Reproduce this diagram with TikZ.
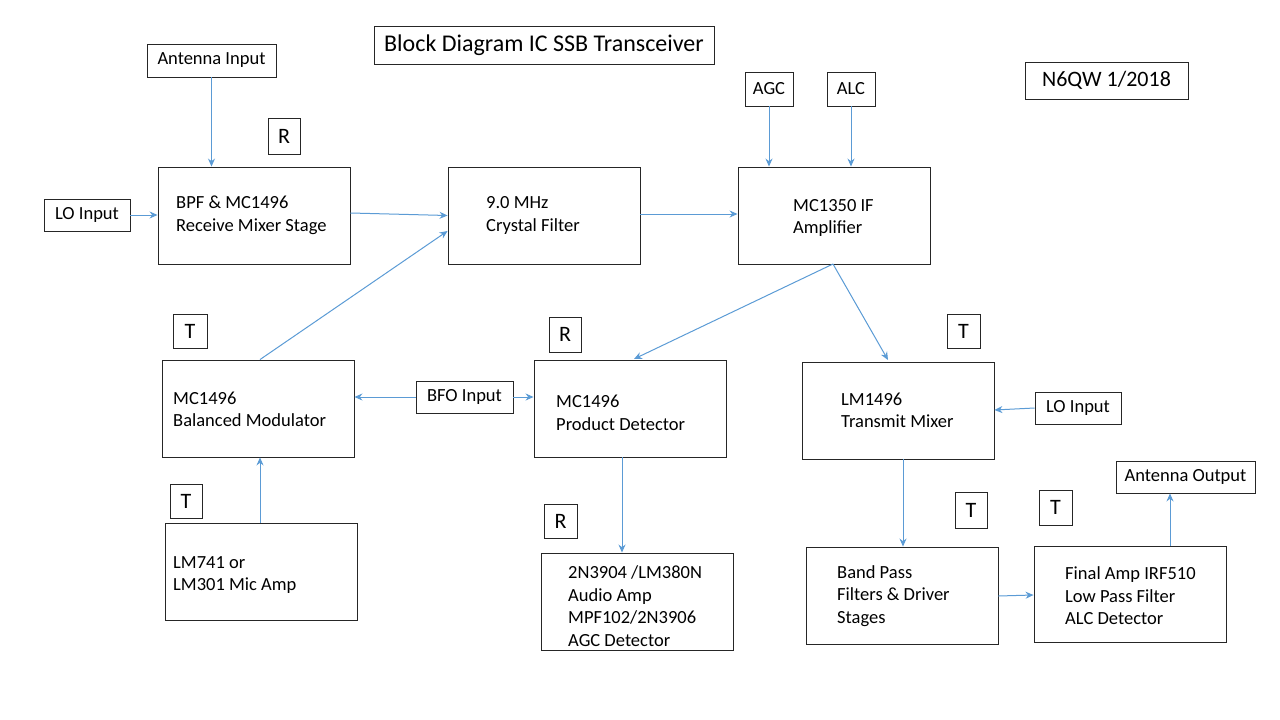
\documentclass[tikz,border=0pt]{standalone}
\usepackage{fontspec}
\setmainfont{Carlito}
\usetikzlibrary{arrows.meta}
\definecolor{ab}{HTML}{5B9BD5}
\begin{document}
\begin{tikzpicture}[x=1pt,y=-1pt,
 box/.style={draw=black!85,line width=0.9pt,rectangle,inner sep=0pt},
 txt/.style={anchor=west,align=left,font=\fontsize{18.5}{22.5}\selectfont,inner sep=0pt},
 lbl/.style={box,font=\fontsize{18.5}{21}\selectfont},
 big/.style={font=\fontsize{22}{26}\selectfont},
 ar/.style={draw=ab,line width=1pt,-{Stealth[length=8pt,width=7pt]}}]
\useasboundingbox (0,0) rectangle (1280,720);
\node[lbl,minimum width=340,minimum height=38,font=\fontsize{24}{28}\selectfont] (title) at (544,45) {Block Diagram IC SSB Transceiver};
\node[lbl,minimum width=129,minimum height=33] (ant) at (211.5,60.5) {Antenna Input};
\node[lbl,big,minimum width=32,minimum height=36] (r1) at (284,136) {R};
\node[lbl,minimum width=86,minimum height=32] (lo1) at (87,215) {LO Input};
\node[lbl,big,minimum width=163,minimum height=37] (call) at (1106.5,80.5) {N6QW 1/2018};
\node[lbl,minimum width=48,minimum height=34] (agc) at (769,89) {AGC};
\node[lbl,minimum width=48,minimum height=34] (alc) at (851,89) {ALC};
\node[box,minimum width=192,minimum height=97] (bpf) at (254,215.5) {};
\node[txt] at (176,215.5) {BPF \& MC1496\\Receive Mixer Stage};
\node[box,minimum width=192,minimum height=97] (xf) at (544,215.5) {};
\node[txt] at (486,215.5) {9.0 MHz\\Crystal Filter};
\node[box,minimum width=192,minimum height=97] (if) at (834,215.5) {};
\node[txt] at (793,218) {MC1350 IF\\Amplifier};
\node[lbl,big,minimum width=34,minimum height=34] (t1) at (190,331) {T};
\node[box,minimum width=192,minimum height=97] (bm) at (258,408.5) {};
\node[txt] at (173,409.5) {MC1496\\Balanced Modulator};
\node[lbl,minimum width=97,minimum height=32] (bfo) at (464.5,397) {BFO Input};
\node[lbl,big,minimum width=32,minimum height=35] (r2) at (565,334.5) {R};
\node[box,minimum width=192,minimum height=97] (pd) at (630,408.5) {};
\node[txt] at (556,413) {MC1496\\Product Detector};
\node[lbl,big,minimum width=33,minimum height=34] (t2) at (963.5,331) {T};
\node[box,minimum width=192,minimum height=97] (tm) at (898,410.5) {};
\node[txt] at (841,410.5) {LM1496\\Transmit Mixer};
\node[lbl,minimum width=86,minimum height=32] (lo2) at (1078,408) {LO Input};
\node[lbl,big,minimum width=32,minimum height=34] (t3) at (186,501) {T};
\node[box,minimum width=192,minimum height=97] (mic) at (261,571.5) {};
\node[txt] at (173,575) {LM741 or\\LM301 Mic Amp};
\node[lbl,big,minimum width=33,minimum height=34] (r3) at (560.5,521) {R};
\node[box,minimum width=192,minimum height=97] (aud) at (637,601.5) {};
\node[txt] at (568,606) {2N3904 /LM380N\\Audio Amp\\MPF102/2N3906\\AGC Detector};
\node[lbl,big,minimum width=32,minimum height=36] (t4) at (971,510) {T};
\node[lbl,big,minimum width=33,minimum height=35] (t5) at (1055.5,507.5) {T};
\node[lbl,minimum width=139,minimum height=32] (antout) at (1185.5,477) {Antenna Output};
\node[box,minimum width=192,minimum height=97] (bp) at (902,595.5) {};
\node[txt] at (837,596) {Band Pass\\Filters \& Driver\\Stages};
\node[box,minimum width=192,minimum height=96] (fa) at (1130,594) {};
\node[txt] at (1065,596) {Final Amp IRF510\\Low Pass Filter\\ALC Detector};
% arrows
\draw[ar] (ant.south) -- (ant.south |- bpf.north);
\draw[ar] (lo1.east) -- (lo1.east -| bpf.west);
\draw[ar] (bpf.east |- 0,213) -- (xf.west);
\draw[ar] (xf.east |- 0,214) -- (if.west |- 0,214);
\draw[ar] (agc.south) -- (agc.south |- if.north);
\draw[ar] (alc.south) -- (alc.south |- if.north);
\draw[ar] (bm.north -| 260,0) -- (xf.west |- 0,231);
\coordinate (ifb) at (833,264);
\draw[ar] (ifb) -- (634,359);
\draw[ar] (ifb) -- (888,360);
\draw[ar] (bfo.west) -- (bfo.west -| bm.east);
\draw[ar] (bfo.east) -- (bfo.east -| pd.west);
\draw[ar] (mic.north -| 260,0) -- (bm.south -| 260,0);
\draw[ar] (pd.south -| 622,0) -- (aud.north -| 622,0);
\draw[ar] (lo2.west) -- (tm.east |- 0,410);
\draw[ar] (tm.south -| 903,0) -- (bp.north -| 903,0);
\draw[ar] (bp.east |- 0,596) -- (fa.west |- 0,595);
\draw[ar] (fa.north -| 1170,0) -- (antout.south -| 1170,0);
\end{tikzpicture}
\end{document}
